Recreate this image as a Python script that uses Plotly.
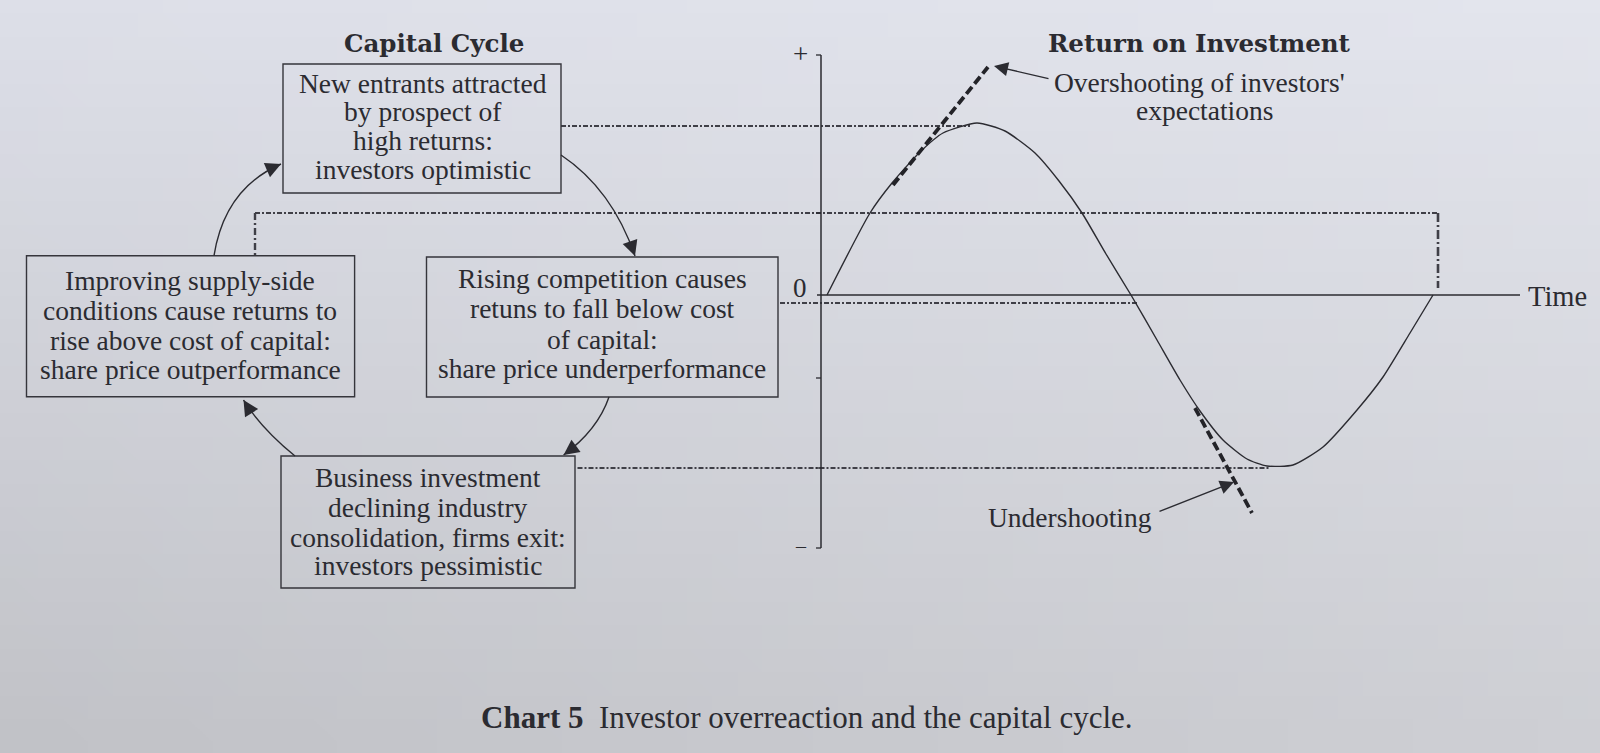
import base64, struct, zlib
import plotly.graph_objects as go

# ---------------- data ----------------
# Return on investment over one full cycle (time units, return units)
time_pts = [0.06, 0.49, 0.71, 0.99, 1.22, 1.56, 1.84, 2.14, 2.38, 2.61, 2.85, 3.10,
            3.36, 3.59, 3.79, 4.02, 4.26, 4.46, 4.72, 5.02, 5.36, 5.62, 5.89, 6.12]
return_pts = [0.00, 0.82, 1.12, 1.43, 1.62, 1.72, 1.64, 1.42, 1.14, 0.82, 0.41, 0.00,
              -0.45, -0.85, -1.16, -1.45, -1.64, -1.71, -1.70, -1.52, -1.15, -0.82, -0.38, 0.00]

# investors' extrapolated expectations
over_time = [0.72, 1.67]
over_return = [1.10, 2.28]
under_time = [3.74, 4.31]
under_return = [-1.13, -2.18]

# dash-dot reference levels linking the cycle stages to the curve
ref_levels = [1.69, 0.82, -0.08, -1.73]
ref_end_time = [1.49, 6.17, 3.16, 4.49]
cost_drop_to = 0.07          # vertical drop of the 0.82 level at its right end

# small marks on the return axis
axis_top, axis_bottom = 2.40, -2.53
axis_ticks = [2.40, 0.82, -0.83, -1.73, -2.53]
axis_labels = ["+", "0", "\u2013"]
time_end = 6.99

titles = ["Capital Cycle", "Return on Investment"]
top_box_lines = ["New entrants attracted", "by prospect of", "high returns:", "investors optimistic"]
left_box_lines = ["Improving supply-side", "conditions cause returns to",
                  "rise above cost of capital:", "share price outperformance"]
right_box_lines = ["Rising competition causes", "retuns to fall below cost",
                   "of capital:", "share price underperformance"]
bottom_box_lines = ["Business investment", "declining industry",
                    "consolidation, firms exit:", "investors pessimistic"]
over_label = ["Overshooting of investors'", "expectations"]
under_label = "Undershooting"
time_label = "Time"
caption_bold = "Chart 5"
caption_text = "Investor overreaction and the capital cycle."

# ---------------- layout helpers ----------------
W, H = 1600, 753
X0_PX, Y0_PX, UNIT = 821, 295, 100.0
def X(px): return (px - X0_PX) / UNIT
def Y(py): return (Y0_PX - py) / UNIT

INK = "#2b2b31"
FONT = "Liberation Serif"
TITLE_FONT = "DejaVu Serif"
TXT = 27.5

# paper-like gradient background (small PNG built in memory)
def gradient_png(w, h, tl, tr, bl, br):
    rows = b""
    for j in range(h):
        v = j / (h - 1)
        row = b"\x00"
        for i in range(w):
            u = i / (w - 1)
            px = [int(round((1-u)*(1-v)*tl[k] + u*(1-v)*tr[k] + (1-u)*v*bl[k] + u*v*br[k])) for k in range(3)]
            row += bytes(px)
        rows += row
    def chunk(t, d):
        c = struct.pack(">I", len(d)) + t + d
        return c + struct.pack(">I", zlib.crc32(t + d) & 0xffffffff)
    png = b"\x89PNG\r\n\x1a\n"
    png += chunk(b"IHDR", struct.pack(">IIBBBBB", w, h, 8, 2, 0, 0, 0))
    png += chunk(b"IDAT", zlib.compress(rows))
    png += chunk(b"IEND", b"")
    return "data:image/png;base64," + base64.b64encode(png).decode()

bg = gradient_png(64, 32, (221, 223, 232), (227, 229, 237), (193, 194, 199), (206, 207, 212))

fig = go.Figure()

DD = dict(color="#3f3f47", width=2.2, dash="5px,2px,2px,2px")
# reference dash-dot levels
ref_start_px = [561, 255, 780, 577.5]
for lvl, tend, spx in zip(ref_levels, ref_end_time, ref_start_px):
    fig.add_trace(go.Scatter(x=[X(spx), tend], y=[lvl, lvl], mode="lines", line=DD))
# vertical connectors of the cost-of-capital level
fig.add_trace(go.Scatter(x=[ref_end_time[1], ref_end_time[1]], y=[ref_levels[1], cost_drop_to],
                         mode="lines", line=dict(color="#3f3f47", width=2.6, dash="9px,3px,2px,3px")))
fig.add_trace(go.Scatter(x=[X(255), X(255)], y=[ref_levels[1], Y(255.7)],
                         mode="lines", line=dict(color="#3f3f47", width=2.4, dash="7px,3px,2px,3px")))

# axis and time line
fig.add_trace(go.Scatter(x=[0, 0], y=[axis_top, axis_bottom], mode="lines",
                         line=dict(color=INK, width=1.5)))
tx, ty = [], []
for t in axis_ticks:
    tx += [-0.05, 0, None]
    ty += [t, t, None]
fig.add_trace(go.Scatter(x=tx, y=ty, mode="lines", line=dict(color=INK, width=1.3)))
fig.add_trace(go.Scatter(x=[-0.04, time_end], y=[0, 0], mode="lines",
                         line=dict(color=INK, width=1.5)))

# the return curve
fig.add_trace(go.Scatter(x=time_pts, y=return_pts, mode="lines",
                         line=dict(color=INK, width=1.4, shape="spline", smoothing=0.6)))

# expectation lines
for tt, rr in [(over_time, over_return), (under_time, under_return)]:
    fig.add_trace(go.Scatter(x=tt, y=rr, mode="lines",
                             line=dict(color="#232328", width=3.8, dash="9px,4px")))

shapes, ann = [], []

# boxes
boxes = [
    ((283, 64, 561, 193), 423, [83, 111.5, 140, 169.5], top_box_lines),
    ((26.5, 255.7, 354.6, 396.7), 190, [280, 310, 340, 369.5], left_box_lines),
    ((426.5, 257, 778, 397), 602, [278, 308, 339, 368], right_box_lines),
    ((281, 456, 575, 588), 428, [477, 507, 537, 565], bottom_box_lines),
]
for (x0, y0, x1, y1), cx, ys, lines in boxes:
    shapes.append(dict(type="rect", xref="x", yref="y", x0=X(x0), x1=X(x1), y0=Y(y0), y1=Y(y1),
                       line=dict(color="#35353b", width=1.4), fillcolor="rgba(0,0,0,0)"))
    for yy, txt in zip(ys, lines):
        ann.append(dict(x=X(cx), y=Y(yy), xref="x", yref="y", text=txt, showarrow=False,
                        xanchor="center", yanchor="middle",
                        font=dict(family=FONT, size=TXT, color=INK)))

# curved cycle arrows (start, control, end in figure pixels)
curves = [
    ((214, 255.7), (224.7, 188.6), (281, 164)),
    ((561, 155), (612, 189), (635, 256)),
    ((609, 397), (597.7, 430), (563.6, 455)),
    ((295, 456), (260.75, 428), (243.5, 400)),
]
for (sx, sy), (cx, cy), (ex, ey) in curves:
    shapes.append(dict(type="path", xref="x", yref="y",
                       path=f"M {X(sx)},{Y(sy)} Q {X(cx)},{Y(cy)} {X(ex)},{Y(ey)}",
                       line=dict(color=INK, width=1.4)))
    dx, dy = ex - cx, ey - cy
    n = (dx * dx + dy * dy) ** 0.5
    tx0, ty0 = ex - 14 * dx / n, ey - 14 * dy / n
    ann.append(dict(x=X(ex), y=Y(ey), ax=X(tx0), ay=Y(ty0), xref="x", yref="y",
                    axref="x", ayref="y", text="", showarrow=True, arrowhead=2,
                    arrowsize=2.2, arrowwidth=1.4, arrowcolor=INK, standoff=0))

# annotation arrows for over/undershooting
ann.append(dict(x=X(994), y=Y(66), ax=X(1050), ay=Y(79), xref="x", yref="y", axref="x", ayref="y",
                text="", showarrow=True, arrowhead=2, arrowsize=2.0, arrowwidth=1.4,
                arrowcolor=INK, standoff=0))
ann.append(dict(x=X(1234), y=Y(482), ax=X(1158), ay=Y(512), xref="x", yref="y", axref="x", ayref="y",
                text="", showarrow=True, arrowhead=2, arrowsize=2.0, arrowwidth=1.4,
                arrowcolor=INK, standoff=0))

def label(px, py, text, size=TXT, anchor="center", family=FONT):
    ann.append(dict(x=X(px), y=Y(py), xref="x", yref="y", text=text,
                    showarrow=False, xanchor=anchor, yanchor="middle",
                    font=dict(family=family, size=size, color=INK)))

label(434, 43, f"<b>{titles[0]}</b>", 24.5, family=TITLE_FONT)
label(1199, 43, f"<b>{titles[1]}</b>", 24.5, family=TITLE_FONT)
label(1199, 82, over_label[0])
label(1204, 110, over_label[1])
label(1070, 517, under_label)
label(1526, 296, time_label, 28.5, anchor="left")
label(800, 54, axis_labels[0], 27)
label(800, 288, axis_labels[1], 27)
label(801, 546, axis_labels[2], 20)
ann.append(dict(x=X(807), y=Y(717), xref="x", yref="y",
                text=f"<b>{caption_bold}</b>  {caption_text}", showarrow=False,
                xanchor="center", yanchor="middle", font=dict(family=FONT, size=31, color=INK)))

fig.update_layout(
    width=W, height=H, margin=dict(l=0, r=0, t=0, b=0),
    paper_bgcolor="#d6d7dd", plot_bgcolor="rgba(0,0,0,0)",
    showlegend=False, hovermode=False,
    xaxis=dict(range=[X(0), X(W)], visible=False, fixedrange=True),
    yaxis=dict(range=[Y(H), Y(0)], visible=False, fixedrange=True),
    shapes=shapes, annotations=ann,
    images=[dict(source=bg, xref="paper", yref="paper", x=0, y=1, sizex=1, sizey=1,
                 sizing="stretch", layer="below", xanchor="left", yanchor="top")],
)
fig.write_html("out.html", config={"displayModeBar": False},
               post_script="document.body.style.margin='0px';document.body.style.overflow='hidden';")
